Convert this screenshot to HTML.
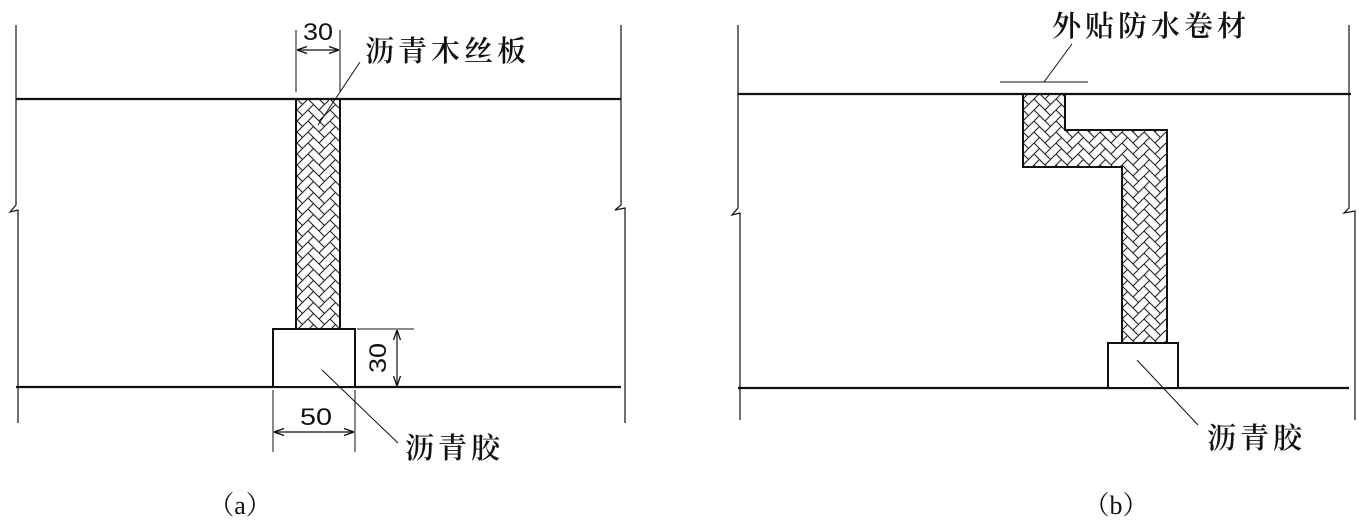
<!DOCTYPE html>
<html><head><meta charset="utf-8"><style>
html,body{margin:0;padding:0;background:#fff;}
svg{display:block;}
.t{font-family:"Noto Serif CJK SC","Noto Sans CJK SC",serif;font-size:29px;font-weight:600;fill:#111;letter-spacing:4px;}
.n{font-family:"Liberation Sans Narrow","Liberation Sans",sans-serif;font-size:24px;fill:#111;}
.c{font-family:"Liberation Serif","Noto Serif CJK SC",serif;font-size:26px;fill:#111;}
</style></head><body>
<svg width="1359" height="523" viewBox="0 0 1359 523" xmlns="http://www.w3.org/2000/svg">
<defs>
<pattern id="hb" width="22" height="11" patternUnits="userSpaceOnUse">
<path d="M0,0 L11,11 L22,0 M0,-11 L11,0 L22,-11 M0,11 L11,22 L22,11 M5.5,5.5 L0,11 M16.5,5.5 L11,0" stroke="#222" stroke-width="1.1" fill="none"/>
</pattern>
<marker id="a" viewBox="0 0 10 10" refX="10" refY="5" markerWidth="10" markerHeight="10" orient="auto-start-reverse" markerUnits="userSpaceOnUse"><path d="M0,1.5 L10,5 L0,8.5" fill="none" stroke="#111" stroke-width="1.3"/></marker>
</defs>
<g stroke="#111" fill="none">
<path d="M16,25 V205 L10,212 L18,210 V423" stroke-width="1.2"/>
<path d="M621,25 V205 L615,210 L625,208 V423" stroke-width="1.2"/>
<line x1="16" y1="99" x2="621" y2="99" stroke-width="2.2"/>
<line x1="16" y1="387" x2="621" y2="387" stroke-width="2.2"/>
<rect x="296" y="99" width="44" height="230" fill="url(#hb)" stroke-width="2"/>
<rect x="273" y="329" width="82" height="58" fill="#fff" stroke-width="2"/>
<line x1="296" y1="30" x2="296" y2="92" stroke-width="1"/>
<line x1="340" y1="30" x2="340" y2="92" stroke-width="1"/>
<line x1="297" y1="50" x2="339" y2="50" stroke-width="1.2" marker-start="url(#a)" marker-end="url(#a)"/>
<line x1="360" y1="62" x2="318" y2="125" stroke-width="1"/>
<line x1="357" y1="329" x2="414" y2="329" stroke-width="1"/>
<line x1="397" y1="330" x2="397" y2="386" stroke-width="1.2" marker-start="url(#a)" marker-end="url(#a)"/>
<line x1="273" y1="390" x2="273" y2="452" stroke-width="1"/>
<line x1="355" y1="390" x2="355" y2="452" stroke-width="1"/>
<line x1="274" y1="432" x2="354" y2="432" stroke-width="1.2" marker-start="url(#a)" marker-end="url(#a)"/>
<line x1="322" y1="370" x2="398" y2="443" stroke-width="1"/>
<path d="M738,25 V208 L732,215 L740,213 V420" stroke-width="1.2"/>
<path d="M1349,25 V208 L1344,213 L1355,211 V420" stroke-width="1.2"/>
<line x1="738" y1="94" x2="1351" y2="94" stroke-width="2.2"/>
<line x1="738" y1="388" x2="1349" y2="388" stroke-width="2.2"/>
<path d="M1023,94 H1065 V130 H1167 V343 H1122 V167 H1023 Z" fill="url(#hb)" stroke-width="2"/>
<rect x="1108" y="343" width="70" height="45" fill="#fff" stroke-width="2"/>
<line x1="1000" y1="82" x2="1088" y2="82" stroke-width="1"/>
<line x1="1044" y1="82" x2="1072" y2="44" stroke-width="1"/>
<line x1="1137" y1="360" x2="1198" y2="425" stroke-width="1"/>
</g>
<text class="n" x="318" y="40" text-anchor="middle" textLength="30" lengthAdjust="spacingAndGlyphs">30</text>
<text class="t" x="365" y="61">沥青木丝板</text>
<text class="n" transform="translate(386,358) rotate(-90)" text-anchor="middle" textLength="30" lengthAdjust="spacingAndGlyphs">30</text>
<text class="n" x="316" y="425" text-anchor="middle" textLength="32" lengthAdjust="spacingAndGlyphs">50</text>
<text class="t" x="405" y="458">沥青胶</text>
<text class="t" x="1052" y="36">外贴防水卷材</text>
<text class="t" x="1207" y="448">沥青胶</text>
<text class="c" x="240" y="514" text-anchor="middle">（a）</text>
<text class="c" x="1116" y="514" text-anchor="middle">（b）</text>
</svg>
</body></html>
